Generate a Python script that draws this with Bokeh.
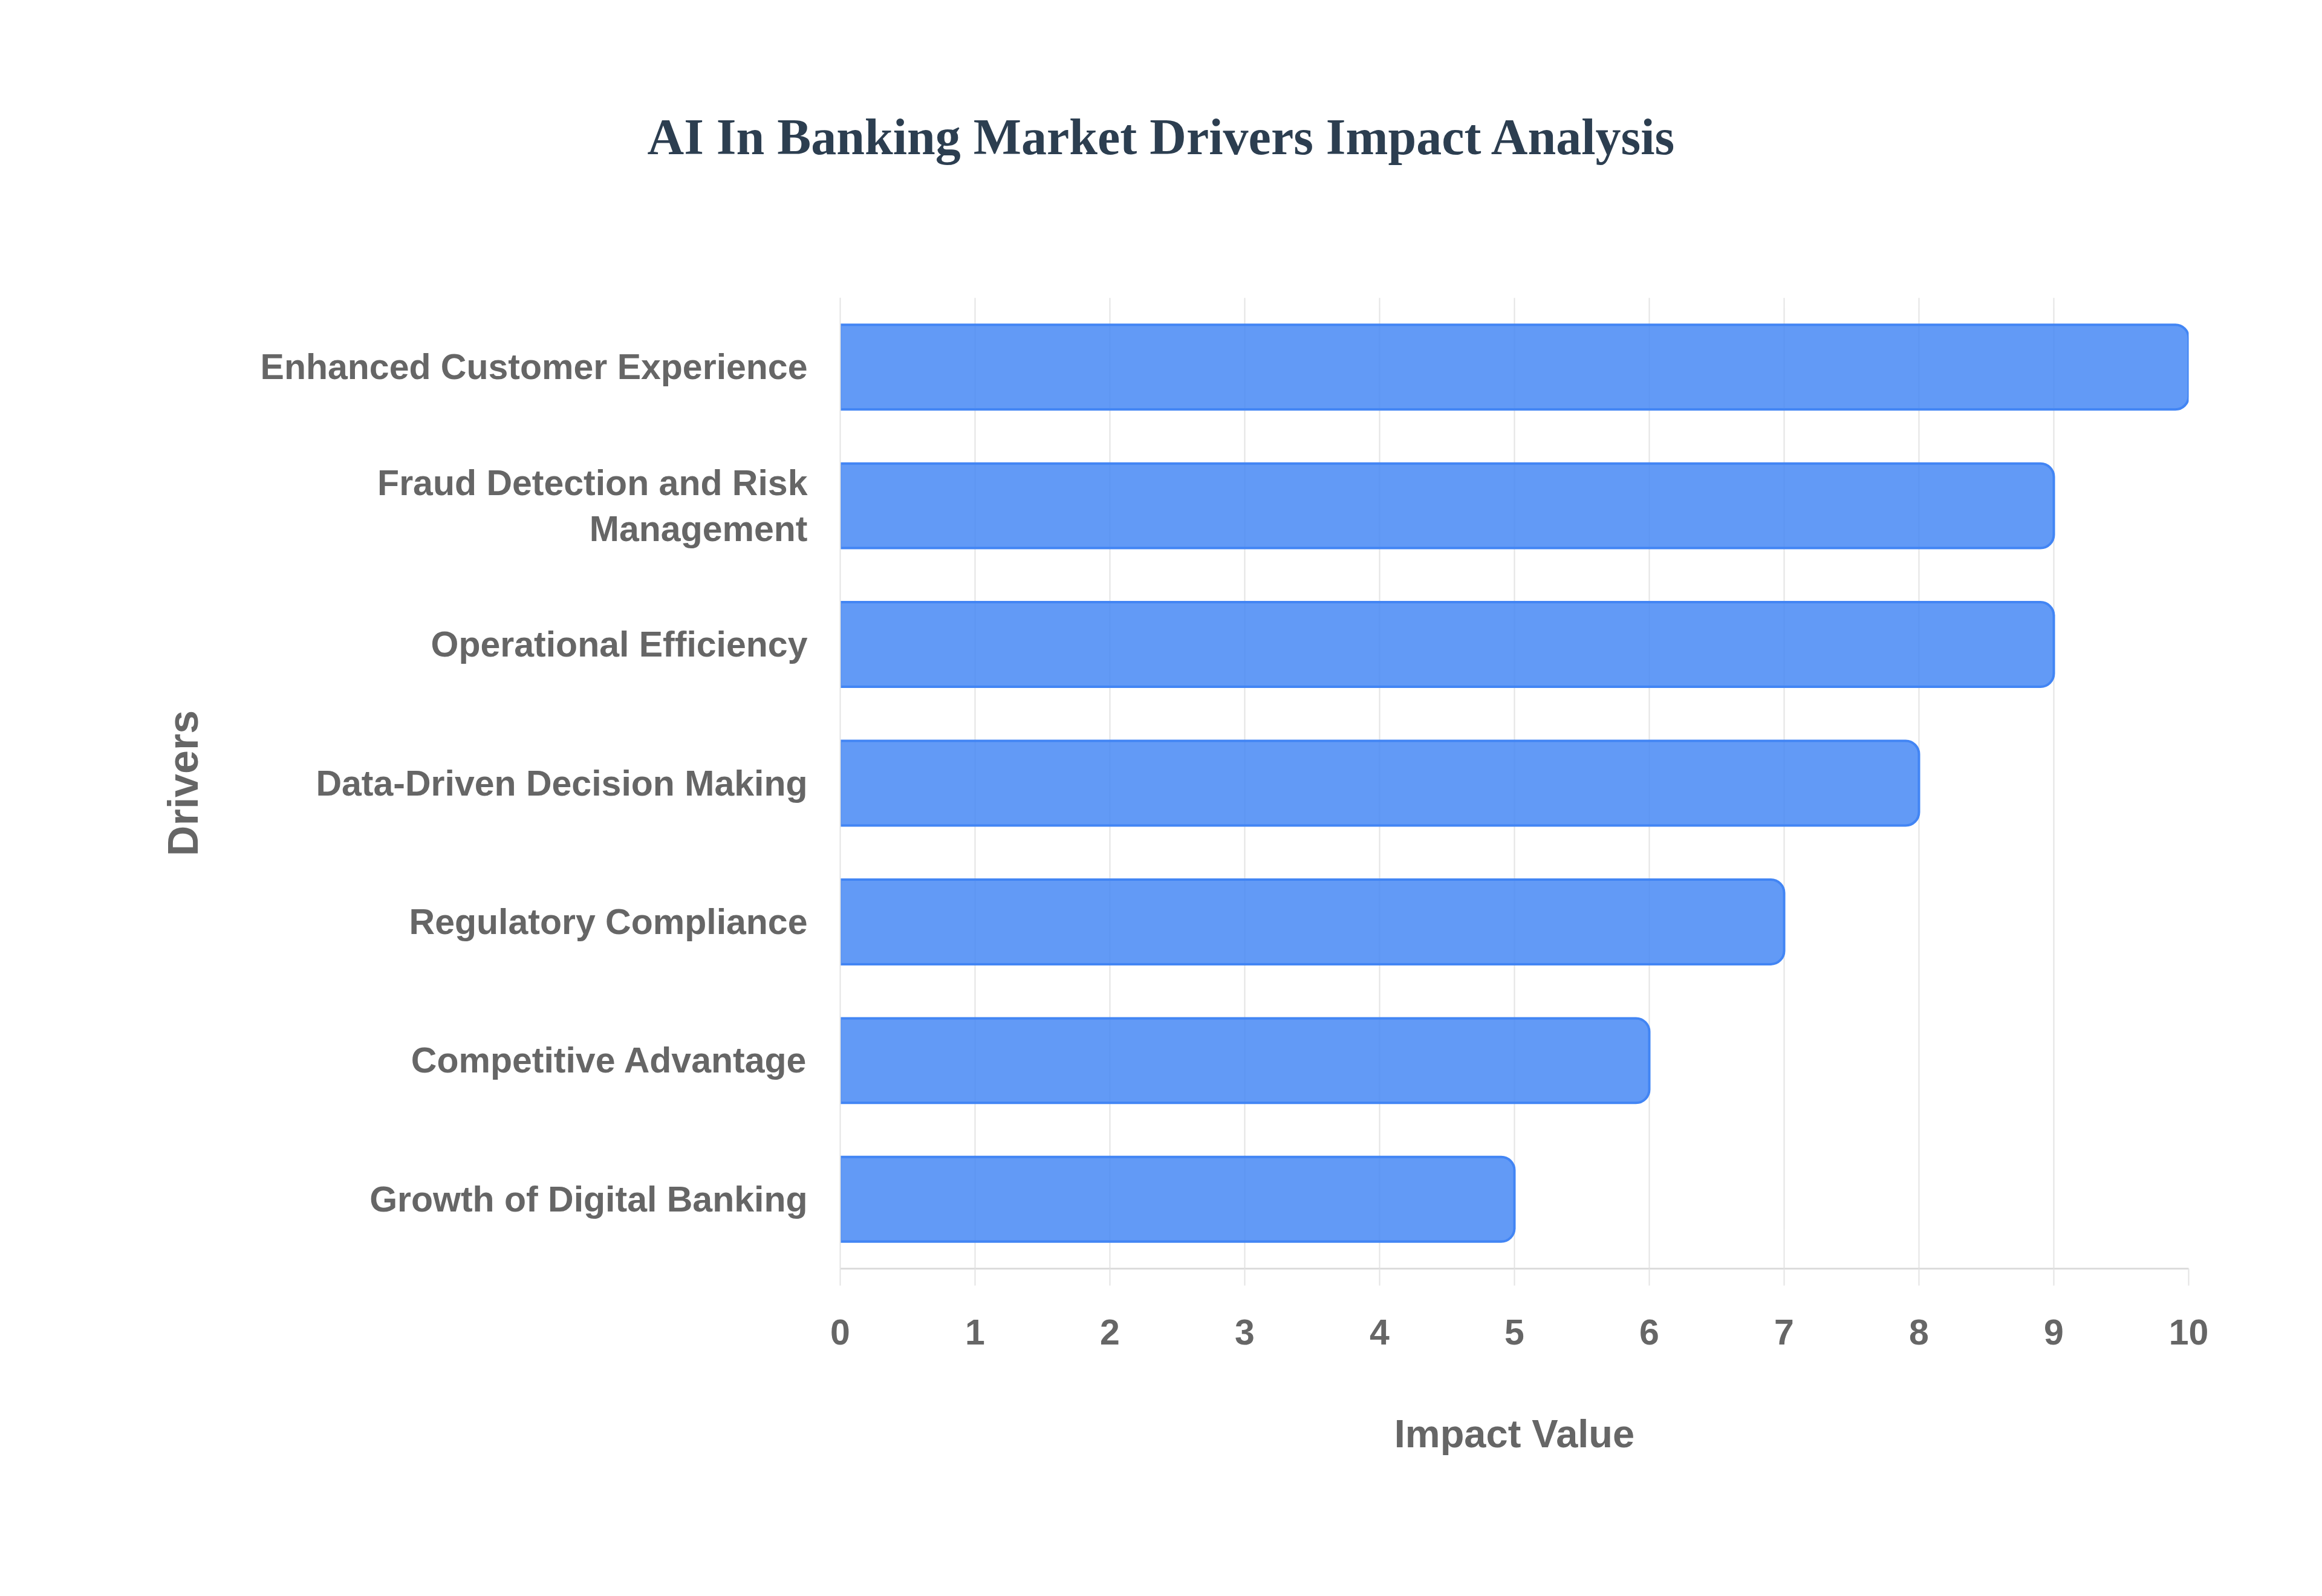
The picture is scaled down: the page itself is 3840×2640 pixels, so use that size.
from bokeh.plotting import figure
from bokeh.layouts import column
from bokeh.models import Range1d, FactorRange, FixedTicker, ColumnDataSource, Title
from bokeh.embed import file_html
from bokeh.resources import INLINE

# ---- data ----
drivers = [
    "Enhanced Customer Experience",
    "Fraud Detection and Risk\nManagement",
    "Operational Efficiency",
    "Data-Driven Decision Making",
    "Regulatory Compliance",
    "Competitive Advantage",
    "Growth of Digital Banking",
]
impact = [10, 9, 9, 8, 7, 6, 5]
x_ticks = [0, 1, 2, 3, 4, 5, 6, 7, 8, 9, 10]
title_text = "AI In Banking Market Drivers Impact Analysis"
x_label = "Impact Value"
y_label = "Drivers"

W = 3824
TOP_H = 480
MAIN_H = 2624 - TOP_H
BL, BR = 1389, 205

# ---- title strip ----
t = figure(width=W, height=TOP_H, x_range=Range1d(0, 1), y_range=Range1d(0, 1),
           x_axis_type=None, y_axis_type=None, output_backend="svg",
           toolbar_location=None, min_border_left=BL, min_border_right=BR,
           min_border_top=0, min_border_bottom=0, title=None)
t.outline_line_color = None
t.xgrid.visible = False
t.ygrid.visible = False
t.add_layout(Title(text=title_text, align="left", offset=-319, vertical_align="top",
                   standoff=358, text_font="Liberation Serif", text_font_style="bold",
                   text_font_size="84px", text_color="#2c3e50"), "above")

# ---- main chart ----
source = ColumnDataSource(data=dict(driver=drivers, impact=impact))

p = figure(
    width=W, height=MAIN_H,
    y_range=FactorRange(factors=list(reversed(drivers))),
    x_range=Range1d(0, 10),
    output_backend="svg", toolbar_location=None,
    min_border_left=BL, min_border_right=BR,
    min_border_top=12, min_border_bottom=526,
)
p.outline_line_color = None

p.hbar(y="driver", right="impact", left=0, height=0.61, source=source,
       fill_color="#4285F4", fill_alpha=0.83,
       line_color="#4285F4", line_width=4,
       border_radius=(0, 22, 22, 0))

grey = "#e4e4e4"
xa = p.xaxis[0]
xa.ticker = FixedTicker(ticks=x_ticks)
xa.axis_line_color = "#dcdcdc"
xa.axis_line_width = 3
xa.major_tick_line_color = grey
xa.major_tick_line_width = 2
xa.major_tick_in = 0
xa.major_tick_out = 28
xa.minor_tick_line_color = None
xa.major_label_text_font = "Liberation Sans"
xa.major_label_text_font_style = "bold"
xa.major_label_text_font_size = "59px"
xa.major_label_text_color = "#666666"
xa.major_label_standoff = 56
xa.axis_label = x_label
xa.axis_label_text_font = "Liberation Sans"
xa.axis_label_text_font_style = "bold"
xa.axis_label_text_font_size = "65px"
xa.axis_label_text_color = "#666666"
xa.axis_label_standoff = 108

ya = p.yaxis[0]
ya.axis_line_color = grey
ya.axis_line_width = 2
ya.major_tick_line_color = None
ya.minor_tick_line_color = None
ya.major_tick_in = 0
ya.major_tick_out = 0
ya.major_label_text_font = "Liberation Sans"
ya.major_label_text_font_style = "bold"
ya.major_label_text_font_size = "59px"
ya.major_label_text_color = "#666666"
ya.major_label_text_line_height = 1.15
ya.major_label_standoff = 54
ya.axis_label = y_label
ya.axis_label_text_font = "Liberation Sans"
ya.axis_label_text_font_style = "bold"
ya.axis_label_text_font_size = "70px"
ya.axis_label_text_color = "#666666"
ya.axis_label_standoff = 86

p.xgrid.grid_line_color = grey
p.xgrid.grid_line_width = 2
p.ygrid.grid_line_color = None

layout = column(t, p, spacing=0)
open("out.html", "w").write(file_html(layout, INLINE))
